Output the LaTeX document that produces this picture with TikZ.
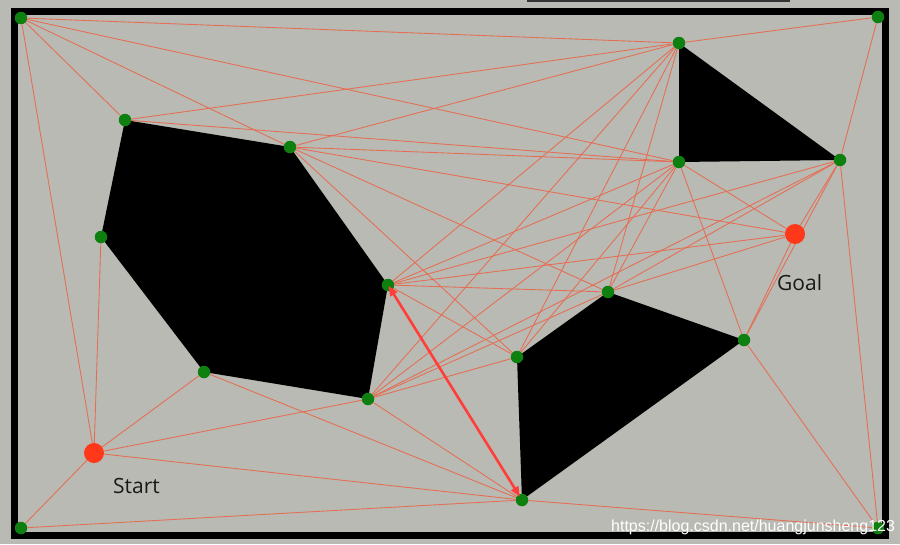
\documentclass[tikz,border=0pt]{standalone}
\usepackage{fontspec}
\setmainfont{Liberation Sans}
\newfontfamily\rotulofont{Open Sans}
\usetikzlibrary{arrows.meta}
\pgfdeclarelayer{fundo}
\pgfdeclarelayer{meio}
\pgfsetlayers{fundo,meio,main}
\definecolor{cinza}{RGB}{185,186,179}
\definecolor{corAresta}{RGB}{230,108,82}
\definecolor{verde}{RGB}{14,128,16}
\definecolor{vermelho}{RGB}{255,56,26}
\definecolor{corSeta}{RGB}{255,62,58}

\begin{document}
\begin{tikzpicture}[x=1pt, y=-1pt,
    every node/.style={circle, inner sep=0pt}
  ]
  \tikzset{
    vertice/.style={fill=verde, minimum size=12.5pt},
    especial/.style={fill=vermelho, minimum size=20pt},
    aresta/.style={draw=corAresta, line width=0.85pt},
    obstaculo/.style={fill=black},
    rotulo/.style={rectangle, text=black!90, font=\rotulofont\fontsize{21}{25}\selectfont},
    marca/.style={rectangle, text=white, font=\fontsize{16}{19}\selectfont}
  }
  \useasboundingbox (0,0) rectangle (900,544);

  \node[vertice] (c1) at (21,18) {};
  \node[vertice] (c2) at (878,17) {};
  \node[vertice] (c3) at (21,528) {};
  \node[vertice] (c4) at (878,528) {};
  \node[vertice] (a1) at (125,120) {};
  \node[vertice] (a2) at (290,147) {};
  \node[vertice] (a3) at (388,285) {};
  \node[vertice] (a4) at (368,399) {};
  \node[vertice] (a5) at (204,372) {};
  \node[vertice] (a6) at (101,237) {};
  \node[vertice] (b1) at (679,43) {};
  \node[vertice] (b2) at (679,162) {};
  \node[vertice] (b3) at (840,160) {};
  \node[vertice] (d1) at (517,357) {};
  \node[vertice] (d2) at (608,292) {};
  \node[vertice] (d3) at (744,340) {};
  \node[vertice] (d4) at (522,500) {};
  \node[especial] (S) at (94,453) {};
  \node[especial] (G) at (795,234) {};

  \node[rotulo, anchor=base west] (inicio) at (113,493) {Start};
  \node[rotulo, anchor=base west] (meta) at (777,290) {Goal};
  \node[marca, anchor=base west] (url) at (611,531) {https://blog.csdn.net/huangjunsheng123};

  \begin{pgfonlayer}{fundo}
    \fill[cinza] (0,0) rectangle (900,544);
    \fill[black!80] (527,0) rectangle (790,1.5);
    \draw[line width=7pt] (14.5,11) rectangle (885,535);
    \fill[obstaculo] (a1.center) -- (a2.center) -- (a3.center) -- (a4.center)
      -- (a5.center) -- (a6.center) -- cycle;
    \fill[obstaculo] (b1.center) -- (b2.center) -- (b3.center) -- cycle;
    \fill[obstaculo] (d1.center) -- (d2.center) -- (d3.center) -- (d4.center) -- cycle;
  \end{pgfonlayer}

  \begin{pgfonlayer}{meio}
    \foreach \u/\v in {c1/S, c1/a1, c1/a2, c1/b1, c1/b2, c2/b1, c2/b3,
        c3/S, c3/d4, c4/b3, c4/d3, c4/d4, S/a6, S/a5, S/a4, S/d4,
        a1/b1, a1/b2, a2/b1, a2/b2, a2/G, a2/d1, a2/d2,
        a3/b1, a3/b2, a3/b3, a3/G, a3/d1, a3/d2, a3/d4,
        a4/b1, a4/b2, a4/b3, a4/d1, a4/d2, a4/d4, a5/d4,
        b1/d1, b1/d2, b2/d1, b2/d2, b2/d3, b2/G,
        b3/G, b3/d2, b3/d3, G/d2, G/d3}
      \draw[aresta] (\u) -- (\v);
  \end{pgfonlayer}

  \draw[corSeta, line width=2.6pt, {Triangle[length=10pt,width=8pt]}-{Triangle[length=10pt,width=8pt]},
    shorten <=1pt, shorten >=4pt] (a3.center) -- (d4.center);
\end{tikzpicture}
\end{document}
